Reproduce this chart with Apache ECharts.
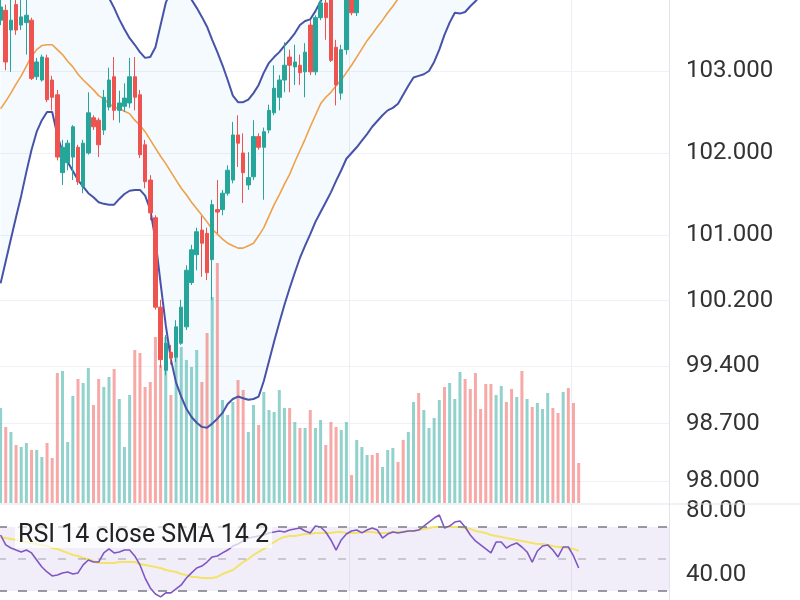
<!DOCTYPE html>
<html><head><meta charset="utf-8">
<script src="https://cdn.jsdelivr.net/npm/echarts@6/dist/echarts.min.js"></script>
<style>html,body{margin:0;padding:0;background:#fff}#c{width:800px;height:600px}</style>
</head><body><div id="c"></div>
<script>
// ---- data ----
const priceTicks = [104, 103, 102, 101, 100.2, 99.4, 98.7, 98];
const rsiTicks = [80, 40];
const slotCount = 130;           // visible bar slots incl. empty right margin
const verticalGridIdx = [68, 111];
// candles: [open, close, low, high]
const candles = [
 [103.62,103.78,103.56,103.93],[103.74,103.11,103.01,103.81],[103.50,103.62,102.99,103.93],[103.81,103.50,103.44,103.93],
 [103.56,103.66,103.50,103.87],[103.59,103.68,103.20,103.93],[103.62,102.91,102.89,103.65],[102.93,103.11,102.89,103.16],
 [102.89,103.17,102.87,103.20],[103.16,102.65,102.62,103.20],[102.89,102.68,102.52,102.94],[102.71,101.95,101.91,102.77],
 [101.76,102.07,101.61,102.16],[101.88,102.12,101.79,102.16],[101.95,102.32,101.67,102.34],[102.07,101.65,101.61,102.10],
 [101.59,102.12,101.51,102.16],[102.00,102.49,101.98,102.74],[102.43,102.32,102.28,102.46],[102.40,102.10,101.95,102.43],
 [102.28,102.68,102.22,102.77],[102.56,102.89,102.52,103.04],[102.93,102.52,102.40,103.17],[102.52,102.61,102.37,102.76],
 [102.57,102.67,102.50,102.85],[102.61,102.93,102.55,103.16],[102.93,102.68,102.52,103.17],[102.71,101.98,101.94,102.77],
 [102.10,101.65,101.57,102.16],[101.67,101.27,101.18,101.73],[101.21,100.12,100.09,101.24],[100.12,99.48,99.38,100.21],
 [99.35,99.68,99.29,99.78],[99.57,99.50,99.42,99.66],[99.51,99.88,99.45,99.96],[99.68,100.12,99.66,100.21],
 [99.88,100.57,99.84,100.63],[100.42,100.82,100.39,100.88],[100.76,101.04,100.57,101.09],[101.06,100.90,100.49,101.23],
 [101.02,100.54,100.45,101.09],[100.70,101.37,100.21,101.43],[101.31,101.28,101.02,101.67],[101.31,101.51,101.24,101.55],
 [101.51,101.79,101.48,101.85],[101.67,102.22,101.63,102.38],[102.22,102.12,101.83,102.46],[102.00,101.76,101.39,102.24],
 [101.61,101.70,101.55,102.01],[101.71,102.20,101.67,102.40],[102.20,102.07,102.04,102.24],[102.07,102.26,101.43,102.31],
 [102.28,102.52,102.24,102.59],[102.49,102.79,102.46,103.07],[102.68,102.89,102.52,102.95],[102.89,103.07,102.74,103.35],
 [103.17,103.07,102.74,103.26],[103.05,103.11,102.83,103.32],[103.07,102.98,102.83,103.20],[102.99,103.23,102.68,103.34],
 [103.56,102.99,102.95,103.62],[102.99,103.65,102.95,103.68],[103.65,103.83,103.62,103.90],[103.83,103.65,103.38,103.90],
 [103.87,103.13,103.11,103.93],[103.29,102.83,102.58,103.38],[102.73,103.26,102.65,103.32],[103.26,103.93,103.20,103.99],
 [103.89,103.71,103.68,103.96],[103.71,103.99,103.67,104.05]
];
const bbUpper = [
 104.95,104.98,105.0,105.0,104.97,104.92,104.86,104.8,104.73,104.66,104.6,104.53,104.46,104.4,104.34,104.28,104.22,104.16,104.1,104.05,104.0,
 103.89,103.77,103.63,103.51,103.40,103.32,103.23,103.16,103.17,103.29,103.56,103.83,103.99,104.11,104.13,104.01,103.87,103.77,103.66,103.54,
 103.38,103.23,103.07,102.89,102.70,102.62,102.62,102.65,102.73,102.83,102.98,103.10,103.17,103.23,103.31,103.38,103.46,103.56,103.61,103.63,
 103.73,103.85,103.99,
 104.14,104.3,104.45,104.6,104.72,104.84,104.95,105.05,105.14,105.22,105.3,105.37,105.44,105.5,105.56,105.62,105.68,105.73,105.78,105.83,
 105.88,105.92,105.96,106.0,106.04,106.08,106.11,106.14,106.17,106.2,106.23
];
const bbBasis = [
 102.54,102.63,102.73,102.84,102.94,103.06,103.18,103.26,103.31,103.32,
 103.32,103.26,103.20,103.12,103.05,102.96,102.89,102.83,102.77,102.70,
 102.66,102.60,102.56,102.54,102.51,102.48,102.40,102.34,102.26,102.16,
 102.06,101.96,101.87,101.77,101.67,101.57,101.49,101.40,101.32,101.24,
 101.16,101.07,101.01,100.95,100.90,100.87,100.84,100.84,100.87,100.90,
 100.99,101.09,101.23,101.37,101.49,101.62,101.74,101.89,102.03,102.17,
 102.32,102.46,102.60,102.68,102.74,102.82,102.89,102.98,103.07,103.17,
 103.27,103.37,103.45,103.54,103.62,103.71,103.79,103.88,103.96,104.05
];
const bbLower = [
 100.41,100.68,100.95,101.22,101.48,101.77,102.04,102.26,102.40,102.50,
 102.50,102.22,102.01,101.89,101.78,101.67,101.59,101.51,101.46,101.40,
 101.38,101.37,101.37,101.44,101.50,101.54,101.55,101.55,101.48,101.31,
 100.94,100.41,99.90,99.48,99.20,99.03,98.88,98.78,98.71,98.66,
 98.65,98.70,98.76,98.83,98.94,99.00,99.03,99.01,98.99,99.00,
 99.03,99.22,99.46,99.70,99.93,100.15,100.35,100.54,100.72,100.87,
 101.01,101.16,101.28,101.40,101.52,101.66,101.79,101.93,102.00,102.07,
 102.15,102.23,102.32,102.39,102.46,102.52,102.55,102.60,102.71,102.82,
 102.92,102.94,102.96,103.00,103.11,103.26,103.44,103.59,103.71,103.70,
 103.72,103.79,103.85,103.92,103.99
];
const volume = [
 95,76,71,58,56,60,53,53,46,60, 45,130,132,61,107,124,120,135,98,124,
 116,126,134,104,56,108,153,150,116,121, 166,138,166,108,150,156,143,136,153,121,
 170,206,240,103,88,101,123,113,71,98, 78,111,93,91,113,95,95,81,75,75,
 93,75,83,58,81,76,73,81,28,63, 56,48,48,50,36,53,55,41,63,71,
 101,110,93,75,85,103,116,120,104,131, 124,114,130,94,119,119,108,117,101,114,
 106,132,104,96,100,94,110,95,90,111, 115,100,40
];
const volumeDir = [
 'u','d','u','d','u','u','d','u','u','d', 'd','d','u','u','u','d','u','u','d','d',
 'u','u','d','u','u','u','d','d','d','d', 'd','d','u','d','u','u','u','u','u','d',
 'd','u','d','u','u','u','d','d','u','u', 'd','u','u','u','u','u','d','u','d','u',
 'd','u','u','d','d','d','u','u','d','u', 'u','u','d','d','u','u','u','d','d','u',
 'u','d','u','u','u','u','d','u','u','u', 'd','d','d','d','d','d','u','u','d','d',
 'u','d','u','d','u','u','u','d','d','u', 'd','d','d'
];
const rsi = [
 65.0,58.8,56.9,55.6,54.4,55.6,53.8,49.4,45.0,41.9, 39.4,40.0,41.3,41.9,40.6,41.3,46.3,49.4,48.1,48.1,
 53.8,56.3,53.8,54.4,55.6,55.6,51.9,46.3,38.1,31.9, 28.1,26.3,28.8,28.8,31.3,33.8,38.1,41.3,44.4,45.6,
 48.1,51.3,51.9,53.8,55.6,58.1,59.4,61.3,63.1,63.8, 64.4,65.0,66.3,66.9,67.5,66.9,68.1,68.8,69.4,67.5,
 66.3,70.6,70.0,66.9,61.9,55.6,61.9,65.6,67.5,68.1, 66.3,68.1,69.4,68.1,63.1,65.6,66.9,66.3,66.9,67.5,
 67.5,68.1,70.6,73.1,75.6,77.5,69.4,70.6,73.1,73.8, 70.0,65.0,61.3,58.8,56.3,53.8,60.6,60.6,56.9,58.8,
 60.0,57.5,54.4,48.1,55.0,58.1,58.8,55.6,51.3,57.5, 57.5,51.9,44.4
];
const rsiSma = [
 63.8,63.1,62.5,61.9,61.3,60.6,60.0,59.4,58.8,58.1, 56.9,56.3,55.0,53.8,52.5,51.9,50.6,50.0,48.8,47.5,
 47.5,47.5,47.5,48.1,48.1,48.1,48.1,46.9,46.3,45.6, 45.0,44.4,43.1,42.5,41.9,40.6,40.0,38.8,38.8,38.1,
 38.1,38.1,38.8,40.6,41.9,43.1,45.6,48.1,50.0,52.5, 54.4,56.3,58.8,60.6,62.5,63.8,64.4,64.4,65.0,65.6,
 65.6,66.3,66.3,66.3,66.3,66.9,66.9,66.3,66.3,66.3, 66.9,66.9,66.9,66.3,66.3,66.3,66.9,66.9,66.9,67.5,
 67.5,68.1,68.8,69.4,70.0,70.0,70.0,70.0,70.0,70.0, 69.4,68.8,67.5,66.9,66.3,65.0,64.4,63.8,63.1,62.5,
 61.9,61.3,60.6,60.0,59.4,59.4,58.8,58.1,57.5,57.5, 56.9,56.3,55.0
];
const rsiBands = {upper: 70, middle: 50, lower: 30};
const rsiTitle = 'RSI 14 close SMA 14 2';

// ---- chart ----
const categories = Array.from({length: slotCount}, (_, i) => 'B' + (i + 1));
const upC = '#26a69a', dnC = '#ef5350';
const volColors = {u: 'rgba(38,166,154,0.5)', d: 'rgba(239,83,80,0.5)'};
const bandColor = '#4653a8';
const font = 'Roboto, sans-serif';
const gL = -2, gR = 131;
const bandDiff = bbLower.map((v, i) => (bbUpper[i] != null ? +(bbUpper[i] - v).toFixed(3) : '-'));

const xAx = g => ({
  type: 'category', gridIndex: g, data: categories, boundaryGap: true,
  axisLine: {show: false}, axisTick: {show: false}, axisLabel: {show: false},
  splitLine: {show: g !== 1, interval: idx => verticalGridIdx.includes(idx), lineStyle: {color: '#eceef3', width: 1}}
});
const gridBase = {left: gL, right: gR, containLabel: false, outerBoundsMode: 'none'};

const option = {
  animation: false,
  backgroundColor: '#ffffff',
  grid: [
    Object.assign({top: -11, height: 514}, gridBase),
    Object.assign({top: 253, height: 250}, gridBase),
    Object.assign({top: 504, height: 96}, gridBase)
  ],
  xAxis: [xAx(0), xAx(1), xAx(2)],
  yAxis: [
    {type: 'value', gridIndex: 0, position: 'right', min: 97.7317, max: 104,
     axisLine: {show: true, lineStyle: {color: '#e0e3eb', width: 1}},
     axisTick: {show: false, customValues: priceTicks},
     axisLabel: {customValues: priceTicks, formatter: v => v.toFixed(3), color: '#333', fontSize: 24, fontFamily: font, margin: 17},
     splitLine: {show: true, lineStyle: {color: '#eff1f6', width: 1}}},
    {type: 'value', gridIndex: 1, min: 0, max: 250, show: false},
    {type: 'value', gridIndex: 2, position: 'right', min: 24.375, max: 84.375,
     axisLine: {show: true, lineStyle: {color: '#e0e3eb', width: 1}},
     axisTick: {show: false, customValues: rsiTicks},
     axisLabel: {customValues: rsiTicks, formatter: v => v.toFixed(2), color: '#333', fontSize: 24, fontFamily: font, margin: 17},
     splitLine: {show: false}}
  ],
  series: [
    {name: 'BB lower', type: 'line', xAxisIndex: 0, yAxisIndex: 0, data: bbLower, stack: 'bb', symbol: 'none',
     lineStyle: {color: bandColor, width: 2}, z: 3},
    {name: 'BB fill', type: 'line', xAxisIndex: 0, yAxisIndex: 0, data: bandDiff, stack: 'bb', symbol: 'none',
     lineStyle: {opacity: 0}, areaStyle: {color: 'rgba(33,150,243,0.075)'}, z: 1},
    {name: 'BB upper', type: 'line', xAxisIndex: 0, yAxisIndex: 0, data: bbUpper, symbol: 'none',
     lineStyle: {color: bandColor, width: 2}, z: 3},
    {name: 'BB basis', type: 'line', xAxisIndex: 0, yAxisIndex: 0, data: bbBasis, symbol: 'none',
     lineStyle: {color: '#f0a048', width: 1.6}, z: 3},
    {name: 'Volume', type: 'bar', xAxisIndex: 1, yAxisIndex: 1, barWidth: 3,
     data: volume.map((v, i) => ({value: v, itemStyle: {color: volColors[volumeDir[i]]}})), z: 2},
    {name: 'Price', type: 'candlestick', xAxisIndex: 0, yAxisIndex: 0, data: candles, barWidth: 4,
     itemStyle: {color: upC, color0: dnC, borderColor: upC, borderColor0: dnC, borderWidth: 1}, z: 5},
    {name: 'RSI SMA', type: 'line', xAxisIndex: 2, yAxisIndex: 2, data: rsiSma, symbol: 'none',
     lineStyle: {color: '#f3e36a', width: 2}, z: 2,
     markArea: {silent: true, itemStyle: {color: 'rgba(126,87,194,0.1)'},
       data: [[{yAxis: rsiBands.lower}, {yAxis: rsiBands.upper}]]}},
    {name: 'RSI', type: 'line', xAxisIndex: 2, yAxisIndex: 2, data: rsi, symbol: 'none',
     lineStyle: {color: '#7e57c2', width: 1.6}, z: 3,
     markLine: {silent: true, symbol: 'none', label: {show: false},
       data: [
         {yAxis: rsiBands.upper, lineStyle: {color: '#787b86', width: 1.5, type: [9, 11]}},
         {yAxis: rsiBands.middle, lineStyle: {color: 'rgba(120,123,134,0.45)', width: 1.5, type: [8, 12]}},
         {yAxis: rsiBands.lower, lineStyle: {color: '#787b86', width: 1.5, type: [9, 11]}}
       ]}}
  ],
  graphic: [
    {type: 'line', z: 50, shape: {x1: 0, y1: 504, x2: 800, y2: 504}, style: {stroke: '#e0e3eb', lineWidth: 1}},
    {type: 'text', z: 60, left: 15, top: 523,
     style: {text: rsiTitle, font: '25px Roboto, sans-serif', fill: '#222',
       backgroundColor: 'rgba(255,255,255,0.7)', padding: [0, 3]}}
  ]
};
const chart = echarts.init(document.getElementById('c'));
chart.setOption(option);
</script>
</body></html>
